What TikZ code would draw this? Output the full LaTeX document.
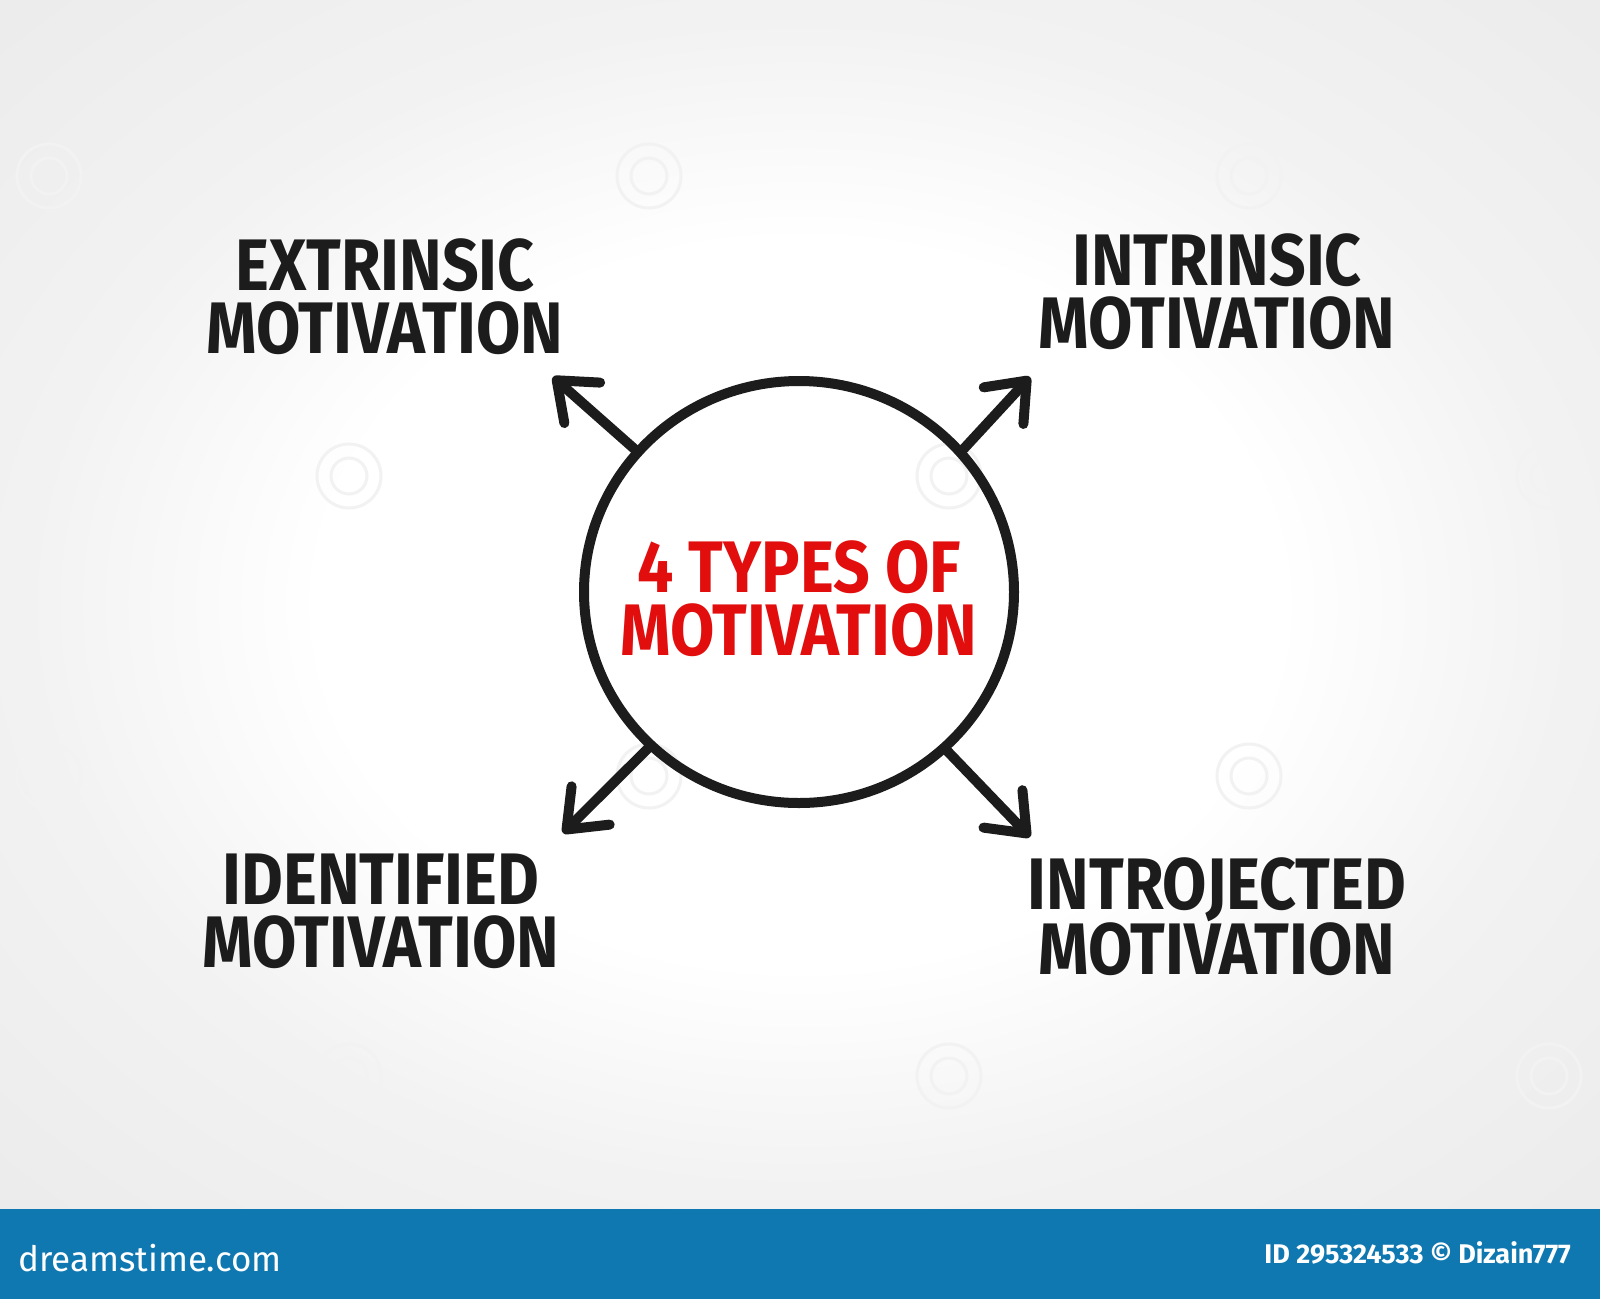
\documentclass[tikz,border=0pt]{standalone}
\usepackage{fontspec}
\setmainfont{Fira Sans}
\usetikzlibrary{arrows.meta,shapes.geometric}
\definecolor{barblue}{RGB}{16,120,176}
\definecolor{ink}{RGB}{28,28,28}
\definecolor{redink}{RGB}{226,14,14}
\pgfdeclareradialshading{bgshade}{\pgfpoint{0bp}{0bp}}{color(0bp)=(white); color(15bp)=(white); color(24bp)=(black!5); color(50bp)=(black!11)}
\newcommand\sqz[1]{\scalebox{0.88}[1]{#1}}
\tikzset{
  lbl/.style={font=\fontsize{73}{63}\selectfont\bfseries, text=ink, align=center, inner sep=0pt},
  arr/.style={line width=10pt, draw=ink, line cap=round, -{Straight Barb[length=34pt,width=54pt,round]}},
  ring/.style={ellipse, draw=ink, line width=10pt, minimum width=430pt, minimum height=422pt, inner sep=0pt},
  wmark/.style={draw=black!5, line width=3pt},
}
\begin{document}
\begin{tikzpicture}[x=1pt,y=-1pt]
\useasboundingbox (0,0) rectangle (1600,1299);
\shade[shading=bgshade] (0,0) rectangle (1600,1209);
\fill[barblue] (0,1209) rectangle (1600,1299);
% faint watermark spirals
\foreach \p in {(49,176),(649,176),(1249,176),(349,476),(949,476),(1549,476),(49,776),(649,776),(1249,776),(349,1076),(949,1076),(1549,1076)}{
  \draw[wmark] \p circle[radius=32];
  \draw[wmark] \p circle[radius=18];
}
% centre
\node[ring] (c) at (799,592) {};
\node[lbl, text=redink] (t) at (799,599) {\sqz{4 TYPES OF}\\\sqz{MOTIVATION}};
% labels
\node[lbl] (ext) at (385,297) {\sqz{EXTRINSIC}\\\sqz{MOTIVATION}};
\node[lbl] (int) at (1217,292) {\sqz{INTRINSIC}\\\sqz{MOTIVATION}};
\node[lbl] (ide) at (381,911) {\sqz{IDENTIFIED}\\\sqz{MOTIVATION}};
\node[lbl] (itj) at (1217,917) {\sqz{INTROJECTED}\\\sqz{MOTIVATION}};
% arrows
\coordinate (tUL) at (553,377);
\coordinate (tUR) at (1030,377);
\coordinate (tLL) at (563,833);
\coordinate (tLR) at (1030,837);
\draw[arr] (c.139) -- (tUL);
\draw[arr] (c.41) -- (tUR);
\draw[arr] (c.226) -- (tLL);
\draw[arr] (c.313) -- (tLR);
% footer
\node[anchor=base west, inner sep=0pt, text=white, font=\fontsize{35}{35}\selectfont] (ds) at (18,1271) {dreamstime.com};
\node[anchor=base east, inner sep=0pt, text=white, font=\fontsize{27}{27}\selectfont\bfseries] (id) at (1571,1263) {ID 295324533 © Dizain777};
\end{tikzpicture}
\end{document}
